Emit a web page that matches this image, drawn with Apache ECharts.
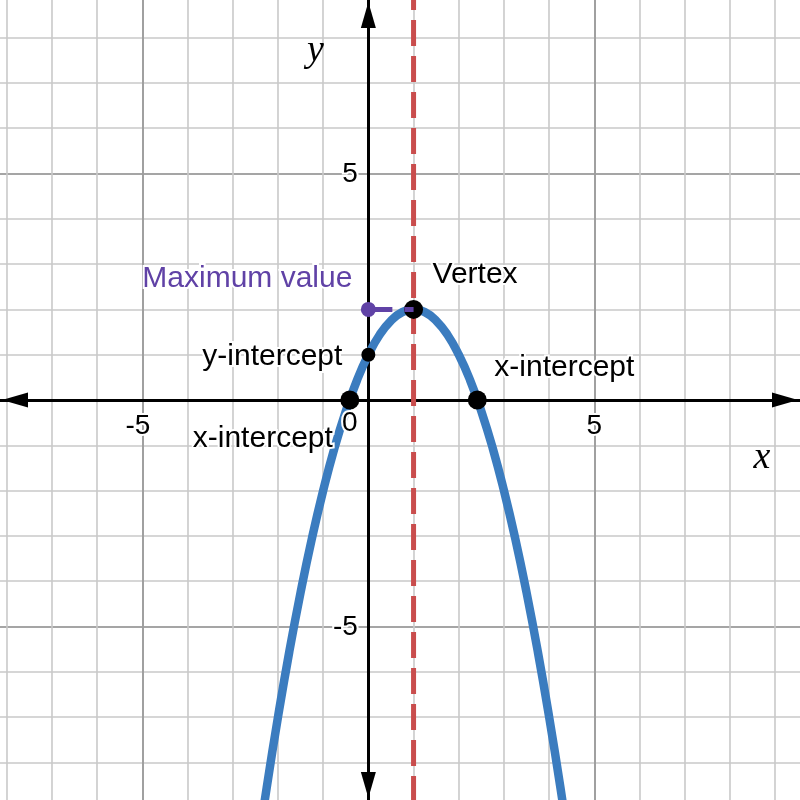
<!DOCTYPE html>
<html><head><meta charset="utf-8">
<script src="https://cdn.jsdelivr.net/npm/echarts@6/dist/echarts.min.js"></script>
<style>html,body{margin:0;padding:0;background:#fff}#c{width:800px;height:800px}</style>
</head><body><div id="c"></div>
<script>
// ---------- data ----------
const curveX = [-2.35,-2.25,-2,-1.75,-1.5,-1.25,-1,-0.75,-0.5,-0.25,0,0.25,0.5,0.75,1,1.25,1.5,1.75,2,2.25,2.5,2.75,3,3.25,3.5,3.75,4,4.25,4.35];
const curveY = [-9.22,-8.56,-7,-5.56,-4.25,-3.06,-2,-1.06,-0.25,0.44,1,1.44,1.75,1.94,2,1.94,1.75,1.44,1,0.44,-0.25,-1.06,-2,-3.06,-4.25,-5.56,-7,-8.56,-9.22];
const vertex = [1, 2];
const xIntercepts = [[-0.41, 0], [2.41, 0]];
const yIntercept = [0, 1];
const maxValuePoint = [0, 2];
const symmetryX = 1;
const xTickValues = [-5, 5];
const yTickValues = [-5, 5];
const originLabel = '0';
const vertexLabel = 'Vertex';
const xInterceptLabel = 'x-intercept';
const yInterceptLabel = 'y-intercept';
const maxValueLabel = 'Maximum value';
const axisNames = ['x', 'y'];
// visible window and grid range (axis units)
const xView = [-8.15, 9.55];
const yView = [-8.83, 8.83];
const gridRange = [-10, 10];

// ---------- layout ----------
const W = 800, H = 800;
const pxX = W / (xView[1] - xView[0]);
const pxY = H / (yView[1] - yView[0]);
const g0 = {
  left: (gridRange[0] - xView[0]) * pxX,
  top: (yView[1] - gridRange[1]) * pxY,
  width: (gridRange[1] - gridRange[0]) * pxX,
  height: (gridRange[1] - gridRange[0]) * pxY
};
const FONT = 'Liberation Sans, Arial, Helvetica, sans-serif';
const MINOR = '#c9c9c9', MAJOR = '#949494';
const halo = { textBorderColor: '#fff', textBorderWidth: 4 };

function gridAxis(interval, color, gridIndex) {
  return {
    type: 'value', gridIndex: gridIndex, min: gridRange[0], max: gridRange[1], interval: interval,
    axisLine: { show: false }, axisTick: { show: false }, axisLabel: { show: false },
    splitLine: { show: true, lineStyle: { color: color, width: 1.6 } }
  };
}
const axisLineCfg = {
  show: true, onZero: true,
  lineStyle: { color: '#000', width: 3 },
  symbol: ['triangle', 'triangle'], symbolSize: [15, 26], symbolOffset: [15, -15]
};

function labelAt(text, color, align, offset, extra) {
  return Object.assign({ show: true, formatter: text, position: 'inside', color: color, align: align,
    verticalAlign: 'middle', offset: offset, fontSize: 30, fontFamily: FONT }, halo, extra || {});
}
const tickFont = { fontSize: 28 };
const nameFont = { fontSize: 38, fontStyle: 'italic', fontFamily: 'Liberation Serif, Times New Roman, serif', textBorderWidth: 0 };

function textItems(points, texts, align, offsetFn, extra) {
  return points.map(function (p, i) {
    return { value: p, label: labelAt(texts[i], '#000', align, offsetFn(p, i), extra) };
  });
}

const option = {
  animation: false,
  backgroundColor: '#fff',
  grid: [
    Object.assign({ containLabel: false, outerBoundsMode: 'none' }, g0),
    { left: 0, top: 0, width: W, height: H, containLabel: false, outerBoundsMode: 'none' }
  ],
  xAxis: [
    gridAxis(1, MINOR, 0),
    gridAxis(5, MAJOR, 0),
    {
      type: 'value', gridIndex: 1, min: xView[0], max: xView[1],
      axisLine: axisLineCfg, axisTick: { show: false }, splitLine: { show: false }, axisLabel: { show: false }
    }
  ],
  yAxis: [
    gridAxis(1, MINOR, 0),
    gridAxis(5, MAJOR, 0),
    {
      type: 'value', gridIndex: 1, min: yView[0], max: yView[1],
      axisLine: axisLineCfg, axisTick: { show: false }, splitLine: { show: false }, axisLabel: { show: false }
    }
  ],
  series: [
    {
      name: 'parabola', type: 'line', xAxisIndex: 2, yAxisIndex: 2, silent: true,
      data: curveX.map(function (x, i) { return [x, curveY[i]]; }),
      smooth: true, symbol: 'none',
      lineStyle: { color: '#3b7cbf', width: 8.5, cap: 'round', join: 'round' }, z: 3
    },
    {
      name: 'axis of symmetry', type: 'line', xAxisIndex: 2, yAxisIndex: 2, silent: true,
      data: [[symmetryX, yView[1]], [symmetryX, yView[0]]], symbol: 'none',
      lineStyle: { color: '#c94d4d', width: 5, type: [26, 10], dashOffset: 16 }, z: 4
    },
    {
      name: 'key points', type: 'scatter', xAxisIndex: 2, yAxisIndex: 2, silent: true,
      symbolSize: 19, itemStyle: { color: '#000', opacity: 1 }, z: 5,
      data: [
        { value: vertex, label: labelAt(vertexLabel, '#000', 'left', [19, -35]) },
        { value: xIntercepts[0], label: labelAt(xInterceptLabel, '#000', 'right', [-17, 39]) },
        { value: xIntercepts[1], label: labelAt(xInterceptLabel, '#000', 'left', [17, -32]) }
      ]
    },
    {
      name: 'y-intercept', type: 'scatter', xAxisIndex: 2, yAxisIndex: 2, silent: true,
      symbolSize: 14, itemStyle: { color: '#000', opacity: 1 }, z: 5,
      data: [{ value: yIntercept, label: labelAt(yInterceptLabel, '#000', 'right', [-26, 2]) }]
    },
    {
      name: 'maximum segment', type: 'line', xAxisIndex: 2, yAxisIndex: 2, silent: true,
      data: [maxValuePoint, vertex], symbol: 'none',
      lineStyle: { color: '#6042a6', width: 5, type: [24, 12] }, z: 7
    },
    {
      name: 'maximum value', type: 'scatter', xAxisIndex: 2, yAxisIndex: 2, silent: true,
      symbolSize: 15, itemStyle: { color: '#6042a6', opacity: 1 }, z: 6,
      data: [{ value: maxValuePoint, label: labelAt(maxValueLabel, '#6042a6', 'right', [-16, -31]) }]
    },
    {
      name: 'x tick labels', type: 'scatter', xAxisIndex: 2, yAxisIndex: 2, silent: true,
      symbolSize: 0, itemStyle: { opacity: 1 }, z: 8,
      data: textItems(xTickValues.map(function (v) { return [v, 0]; }), xTickValues.map(String), 'center',
          function (p) { return [p[0] < 0 ? -4.5 : 0, 26]; }, tickFont)
        .concat(textItems([[0, 0]], [originLabel], 'center', function () { return [-18.5, 23]; }, tickFont))
    },
    {
      name: 'y tick labels', type: 'scatter', xAxisIndex: 2, yAxisIndex: 2, silent: true,
      symbolSize: 0, itemStyle: { opacity: 1 }, z: 8,
      data: textItems(yTickValues.map(function (v) { return [0, v]; }), yTickValues.map(String), 'right',
          function () { return [-10.5, 1]; }, tickFont)
    },
    {
      name: 'axis titles', type: 'scatter', xAxisIndex: 2, yAxisIndex: 2, silent: true,
      symbolSize: 0, itemStyle: { opacity: 1 }, z: 8,
      data: textItems([[xView[1], 0]], [axisNames[0]], 'center', function () { return [-38, 58]; }, nameFont)
        .concat(textItems([[0, yView[1]]], [axisNames[1]], 'center', function () { return [-53, 51]; }, nameFont))
    }
  ]
};
const chart = echarts.init(document.getElementById('c'), null, { renderer: 'canvas', width: W, height: H });
chart.setOption(option);
</script>
</body></html>
